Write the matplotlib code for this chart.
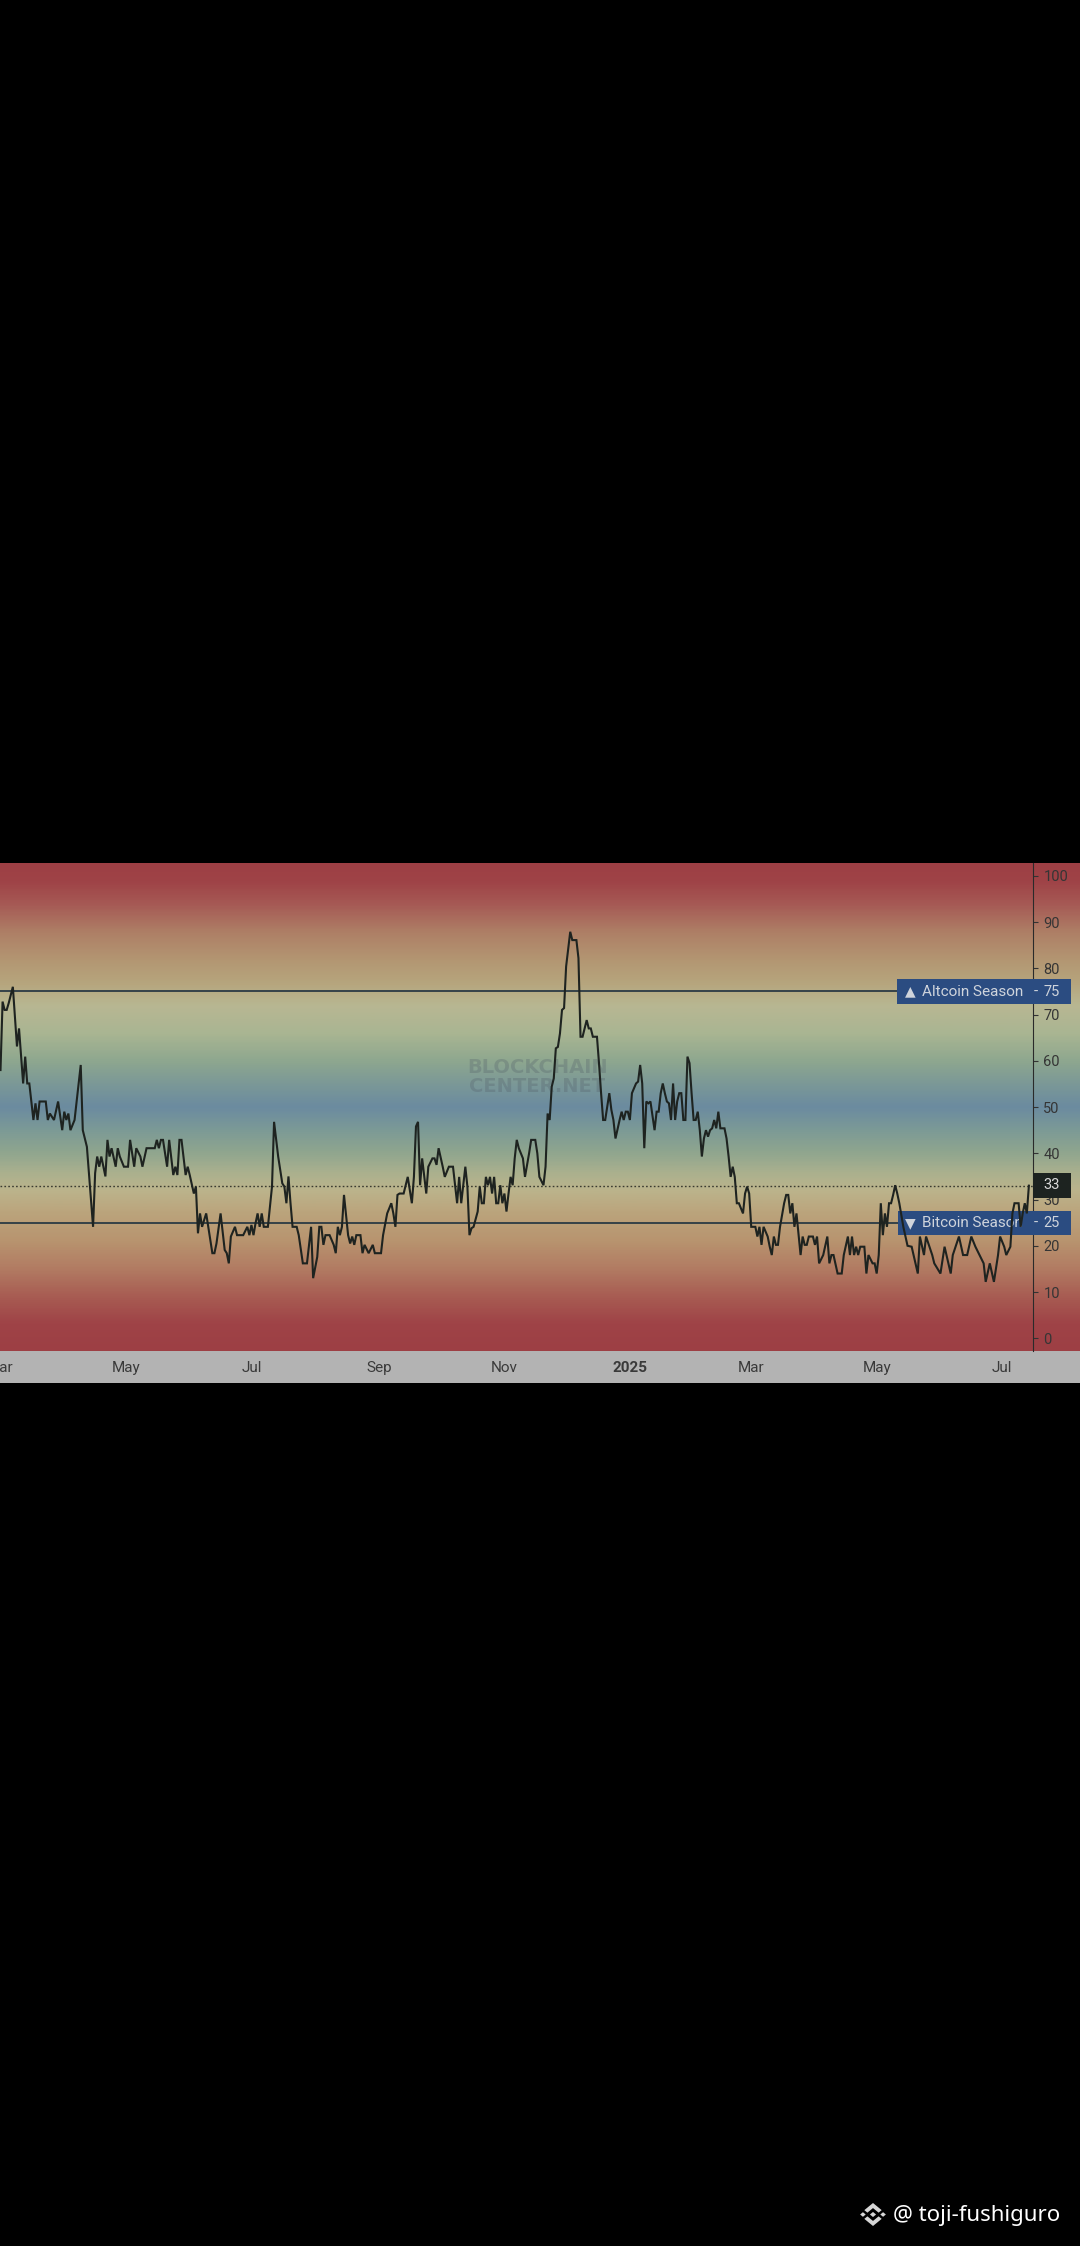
import numpy as np
import matplotlib
matplotlib.use('Agg')
import matplotlib.pyplot as plt
import matplotlib.dates as mdates
from matplotlib.colors import LinearSegmentedColormap
from matplotlib.patches import Rectangle, Polygon

# altcoin season index, days counted from 2024-03-01
start = np.datetime64('2024-03-01')
day = [0, 1, 2, 3, 4, 6, 8, 9, 11, 12, 13, 14, 16, 17, 18, 19, 22, 23, 24, 26, 28, 30, 31, 32, 33, 34, 36,
       39, 40, 42, 45, 46, 47, 48, 49, 51, 52, 53, 54, 56, 57, 58, 60, 62, 63, 65, 66, 68, 69, 71, 75, 76,
       77, 78, 79, 81, 82, 84, 85, 86, 87, 88, 90, 91, 92, 94, 95, 96,
       97, 98, 100, 103, 104, 105, 107, 109, 110, 111, 112, 114, 115, 118, 120, 121, 122, 123, 124, 125,
       126, 127, 128, 130, 132, 133, 135, 137, 138, 139, 140, 141, 142, 144, 145, 147, 149, 151, 152, 154,
       155, 156, 157, 158, 160, 162, 163, 164, 165, 166, 167, 169, 170, 171, 172, 173, 175, 176, 177, 179,
       181, 182, 185, 186, 188, 190, 191, 192, 193,
       194, 196, 198, 200, 201, 202, 203, 204, 205, 207, 208, 210, 211, 212, 213, 215, 216, 218, 220, 222,
       223, 224, 226, 227, 228, 229, 230, 232, 233, 234, 235, 236, 237, 238, 239, 240, 241, 242, 243, 244,
       245, 246, 247, 248, 249, 250, 251, 252, 254, 255, 257, 258, 260, 261, 262, 264, 265, 266, 267, 268,
       269, 270, 271, 272, 273, 274, 275, 277, 278, 280, 281, 282, 283, 285, 286, 287, 288, 290, 291, 292,
       293, 294, 296,
       297, 298, 299, 301, 302, 303, 304, 305, 306, 307, 309, 310, 311, 312, 313, 314, 315, 316, 318, 319,
       320, 321, 322, 323, 324, 325, 326, 327, 328, 329, 330, 331, 332, 333, 334, 335, 336, 337, 338, 339,
       340, 341, 342, 343, 344, 345, 346, 347, 348, 349, 350, 352, 353, 354, 355, 356, 357, 358, 359, 361,
       362, 363, 364, 365, 367, 368, 369, 370, 371, 373, 374, 375, 376, 377, 378, 379, 381, 382, 383, 384,
       385, 386, 387, 389, 390, 391, 392, 393,
       395, 396, 397, 398, 400, 402, 403, 404, 405, 407, 409, 410, 412, 413, 414, 415, 416, 417, 418, 420,
       421, 422, 424, 425, 426, 427, 428, 429, 430, 431, 432, 433, 434, 435, 436, 437, 439, 441, 443, 446,
       447, 449, 450, 453, 454, 457, 459, 462, 463, 466, 468, 470, 472, 474, 476, 478, 479, 481, 483, 485,
       486, 488, 489, 491, 492, 493, 495, 496, 497, 498, 499, 500]
alt_index = [58.0, 72.8, 71.0, 71.0, 72.5, 76.0, 63.1, 67.0, 55.1, 60.9, 55.1, 55.1, 47.2, 50.8, 47.2, 51.2,
             51.2, 47.2, 48.6, 47.2, 51.2, 45.0, 49.0, 47.2, 48.6, 45.0, 47.2,
             59.1, 45.0, 41.4, 24.1, 35.7, 39.3, 37.1, 39.3, 35.0, 42.9, 39.3, 41.1, 37.1, 41.1, 39.3, 37.1,
             37.1, 42.9, 37.1, 41.1, 39.3, 37.1, 41.1, 41.1, 42.9,
             41.1, 42.9, 42.9, 37.1, 42.9, 35.3, 37.1, 35.3, 42.9, 42.9, 35.3, 37.1, 35.3, 31.3, 32.8, 22.7,
             27.0, 24.1, 27.0, 18.4, 18.4, 20.5, 27.0, 19.1, 18.4, 16.2, 22.0, 24.1, 22.3, 22.3, 24.1, 22.3,
             24.5, 22.3, 24.9, 27.0,
             24.1, 27.0, 24.1, 24.1, 32.8, 46.8, 39.3, 33.5, 32.8, 29.2, 35.0, 29.2, 24.1, 24.1, 22.3, 16.2,
             16.2, 24.1, 13.0, 17.6,
             24.1, 24.1, 20.2, 22.3, 22.3, 20.2, 18.4, 24.1, 22.3, 24.1, 31.0, 22.3, 20.5, 22.0, 20.2, 22.3,
             22.3, 18.4, 20.2, 18.4,
             20.2, 18.4, 18.4, 22.3, 27.0, 29.2, 27.0, 24.1, 31.0,
             31.3, 31.3, 34.9, 29.2, 34.9, 45.8, 46.8, 33.1, 38.9, 31.3, 37.1, 38.9, 38.9, 37.5, 41.1, 37.1,
             34.9, 37.1, 37.1, 29.2,
             34.9, 29.2, 37.1, 32.8, 22.3, 23.8, 24.1, 27.4, 32.8, 29.2, 29.2, 34.9, 33.1, 34.9, 31.3, 34.9,
             29.2, 29.2, 33.1, 29.2,
             31.3, 27.4, 31.3, 34.9, 33.1, 38.9, 42.9, 41.1, 38.9, 34.9, 40.0, 42.9, 42.9, 40.0, 34.9, 33.1,
             37.1, 48.6, 47.2, 54.4,
             56.2, 62.7, 63.0, 65.9, 71.0, 71.4, 80.4, 87.9, 86.1, 86.1, 82.2, 65.2, 65.2, 68.8, 67.0, 67.0,
             65.2, 65.2, 59.4, 53.0,
             47.2, 47.2, 53.0,
             49.4, 47.2, 43.2, 47.2, 49.0, 47.2, 49.0, 49.0, 47.2, 53.0, 55.1, 55.5, 59.1, 55.1, 41.1, 51.2,
             50.8, 51.2, 45.0, 49.0,
             49.0, 53.0, 55.1, 53.0, 51.2, 50.8, 47.2, 55.1, 47.2, 51.2, 53.0, 53.0, 47.2, 47.2, 60.9, 59.5,
             53.0, 47.2, 47.2, 49.0,
             45.0, 39.3, 43.2, 45.0, 43.6, 45.0, 45.4, 47.2, 45.4, 49.0, 45.4, 45.4, 43.2, 39.3, 34.9, 37.1,
             34.9, 29.2, 29.2, 27.0,
             31.3, 32.8, 31.3, 24.1, 24.1, 22.0, 24.1, 20.2, 24.1, 22.0, 19.8, 18.0, 22.0, 20.2, 20.2, 24.1,
             29.2, 31.0, 31.0, 27.0,
             29.2, 24.1, 27.0, 18.0, 22.0, 20.2, 20.2, 22.0,
             22.0, 20.2, 22.0, 16.2, 18.0, 22.0, 16.2, 18.0, 18.0, 14.0, 14.0, 18.0, 22.0, 18.0, 22.0, 18.0,
             19.8, 18.0, 19.8, 19.8,
             14.0, 18.0, 16.2, 16.2, 14.0, 18.0, 29.2, 22.3, 27.0, 24.1, 29.2, 29.2, 31.0, 33.1, 31.3, 29.2,
             24.0, 20.0, 19.8, 14.0,
             22.0, 18.0, 22.0, 18.0, 16.2, 14.0, 19.8, 14.0, 18.0, 22.0, 18.0, 18.0, 22.0, 19.8, 18.0, 16.2,
             12.2, 16.2, 12.2, 18.0,
             22.0, 19.8, 18.0, 19.8, 27.0, 29.2, 29.2, 24.1, 27.0, 29.2, 27.0, 33.0]

tick_dates = ['2024-03-01', '2024-05-01', '2024-07-01', '2024-09-01', '2024-11-01',
              '2025-01-01', '2025-03-01', '2025-05-01', '2025-07-01']
tick_labels = ['Mar', 'May', 'Jul', 'Sep', 'Nov', '2025', 'Mar', 'May', 'Jul']
y_ticks = list(range(0, 101, 10))
altcoin_level = 75
bitcoin_level = 25
current = 33

# background band colours by index value
grad_vals = [-3, 3, 9, 15, 21, 27, 32, 36, 40, 45, 50, 55, 60, 66, 72, 77, 82, 88, 94, 99, 103]
grad_cols = ['#9d3f44', '#9f4347', '#a85d53', '#b27c63', '#b8946f', '#bba47c', '#bbb48c', '#a9b08e',
             '#90a68e', '#7c9a96', '#6b8ba0', '#7b9897', '#8ea78f', '#a9b592', '#b8b792', '#b6a57d',
             '#b39672', '#ae7f66', '#a65a55', '#9f4347', '#9d3f44']

W, H = 1080, 2246
ylo, yhi = -2.75, 102.77
plot_top, plot_bot = 863, 1351

plt.rcParams['font.family'] = ['Roboto', 'DejaVu Sans']
fig = plt.figure(figsize=(W / 100, H / 100), dpi=100, facecolor='black')

def fbox(x0, y0, x1, y1):
    return [x0 / W, 1 - y1 / H, (x1 - x0) / W, (y1 - y0) / H]

# grey time axis strip, drawn before the axes
fig.add_artist(Rectangle((0, 1 - 1382.7 / H), 1, 31.7 / H, transform=fig.transFigure,
                         facecolor='#b3b3b3', edgecolor='none', zorder=-1))

# gradient behind everything, full width
bg = fig.add_axes(fbox(0, plot_top, W, plot_bot))
lo, hi = grad_vals[0], grad_vals[-1]
cmap = LinearSegmentedColormap.from_list(
    'bands', [((v - lo) / (hi - lo), c) for v, c in zip(grad_vals, grad_cols)])
yy = np.linspace(ylo, yhi, 600).reshape(-1, 1)
bg.imshow(yy, aspect='auto', cmap=cmap, vmin=lo, vmax=hi, origin='lower',
          extent=[0, 1, ylo, yhi], interpolation='bilinear')
bg.set_ylim(ylo, yhi)
bg.axis('off')

ax = fig.add_axes(fbox(0, plot_top, 1033, plot_bot))
ax.set_facecolor('none')
dates = start + np.array(day).astype('timedelta64[D]')
x0 = mdates.date2num(start)

ax.axhline(altcoin_level, color='#2b3a44', lw=1.3, zorder=2)
ax.axhline(bitcoin_level, color='#2b3a44', lw=1.3, zorder=2)
ax.axhline(current, color='#3a3a30', lw=1.0, ls=(0, (1.2, 1.6)), zorder=2)

ax.text(0.52, 0.5615, 'BLOCKCHAIN\nCENTER.NET', transform=ax.transAxes, ha='center', va='center',
        fontsize=14, fontweight='bold', color='#4f5a66', alpha=0.28, linespacing=0.95,
        family=['DejaVu Sans'])

ax.set_xticks(mdates.date2num(np.array(tick_dates, dtype='datetime64[D]')))
ax.set_xticklabels(tick_labels)
for lab in ax.get_xticklabels():
    if lab.get_text() == '2025':
        lab.set_fontweight('bold')
ax.tick_params(axis='x', length=0, pad=7, labelsize=11, labelcolor='#3a3a3a')

ax.yaxis.tick_right()
ax.set_yticks(y_ticks)
ax.tick_params(axis='y', direction='out', length=3.5, width=0.8, color='#333333', pad=4,
               labelsize=10.5, labelcolor='#353535')
for s in ['top', 'left', 'bottom']:
    ax.spines[s].set_visible(False)
ax.spines['right'].set_color('#2a2a2a')
ax.spines['right'].set_linewidth(0.8)

# value tags on the right
def tag(x0p, y0p, x1p, y1p, color):
    fig.add_artist(Rectangle((x0p / W, 1 - y1p / H), (x1p - x0p) / W, (y1p - y0p) / H,
                             transform=fig.transFigure, facecolor=color, edgecolor='none', zorder=1))

def ftext(xp, yp, s, size=11, **kw):
    fig.text(xp / W, 1 - yp / H, s, va='center', fontsize=size, zorder=1.5,
             family=['Roboto', 'DejaVu Sans'], **kw)

tag(897, 979.5, 1071, 1003.7, '#2b4c81')
ftext(905, 991.6, '\u25b2', size=10, color='#cfd4dc')
ftext(922, 991.6, 'Altcoin Season', color='#cfd4dc')
ftext(1034, 991.6, '-', color='#cfd4dc')
ftext(1043, 991.6, str(altcoin_level), size=10.5, color='#cfd4dc')

tag(898, 1210.7, 1071, 1235.3, '#2b4c81')
ftext(905, 1223, '\u25bc', size=10, color='#cfd4dc')
ftext(922, 1223, 'Bitcoin Season', color='#cfd4dc')
ftext(1034, 1223, '-', color='#cfd4dc')
ftext(1043, 1223, str(bitcoin_level), size=10.5, color='#cfd4dc')

tag(1033, 1173, 1071, 1197.7, '#1d2320')
ftext(1043, 1185.4, str(current), size=10.5, color='#d9d9d9')

# the index line sits on top of the tags
axl = fig.add_axes(fbox(0, plot_top, 1033, plot_bot), sharex=ax, sharey=ax)
axl.set_zorder(2)
axl.set_facecolor('none')
axl.plot(dates, alt_index, color='#1e2320', lw=1.5, solid_joinstyle='miter')
axl.axis('off')
ax.set_xlim(x0 - 0.25, x0 + 502)
ax.set_ylim(ylo, yhi)

# credit in the corner
lg = fig.add_axes(fbox(859, 2203, 887, 2226))
lg.set_xlim(-1, 1)
lg.set_ylim(-1, 1)
lg.axis('off')
logo_col = '#d6d6d6'
def diamond(cx, cy, r):
    return [(cx, cy + r), (cx + r, cy), (cx, cy - r), (cx - r, cy)]
for shape in [diamond(0, 0, 0.22), diamond(-0.72, 0, 0.2), diamond(0.72, 0, 0.2),
              [(0, 1), (0.62, 0.38), (0.4, 0.16), (0, 0.56), (-0.4, 0.16), (-0.62, 0.38)],
              [(0, -1), (0.62, -0.38), (0.4, -0.16), (0, -0.56), (-0.4, -0.16), (-0.62, -0.38)]]:
    lg.add_patch(Polygon(shape, closed=True, facecolor=logo_col, edgecolor='none'))

fig.text(893 / W, 1 - 2215 / H, '@ toji-fushiguro', color='white', fontsize=16, va='center',
         ha='left', family=['Noto Sans', 'DejaVu Sans'])

fig.savefig('out.png', dpi=100, facecolor='black')
